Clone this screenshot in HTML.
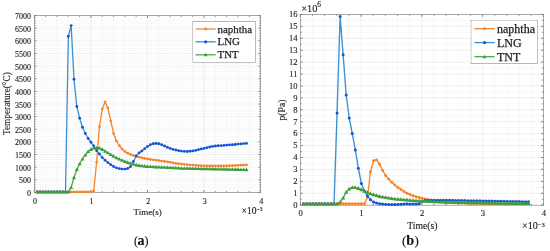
<!DOCTYPE html>
<html><head><meta charset="utf-8"><title>Figure</title>
<style>html,body{margin:0;padding:0;background:#fff}svg{display:block}</style></head>
<body>
<svg width="550" height="251" viewBox="0 0 550 251" font-family="'Liberation Serif', 'Times New Roman', serif" fill="#1c1c1c" stroke="#1c1c1c" stroke-width="0.12" paint-order="stroke">
<rect width="550" height="251" fill="#fff" stroke="none"/>
<rect x="34.40" y="15.60" width="226.10" height="176.80" fill="#fff" stroke="none"/><line x1="45.70" y1="15.60" x2="45.70" y2="192.40" stroke="#f3f3f3" stroke-width="0.6"/><line x1="57.01" y1="15.60" x2="57.01" y2="192.40" stroke="#f3f3f3" stroke-width="0.6"/><line x1="68.31" y1="15.60" x2="68.31" y2="192.40" stroke="#f3f3f3" stroke-width="0.6"/><line x1="79.62" y1="15.60" x2="79.62" y2="192.40" stroke="#f3f3f3" stroke-width="0.6"/><line x1="102.23" y1="15.60" x2="102.23" y2="192.40" stroke="#f3f3f3" stroke-width="0.6"/><line x1="113.53" y1="15.60" x2="113.53" y2="192.40" stroke="#f3f3f3" stroke-width="0.6"/><line x1="124.84" y1="15.60" x2="124.84" y2="192.40" stroke="#f3f3f3" stroke-width="0.6"/><line x1="136.15" y1="15.60" x2="136.15" y2="192.40" stroke="#f3f3f3" stroke-width="0.6"/><line x1="158.75" y1="15.60" x2="158.75" y2="192.40" stroke="#f3f3f3" stroke-width="0.6"/><line x1="170.06" y1="15.60" x2="170.06" y2="192.40" stroke="#f3f3f3" stroke-width="0.6"/><line x1="181.37" y1="15.60" x2="181.37" y2="192.40" stroke="#f3f3f3" stroke-width="0.6"/><line x1="192.67" y1="15.60" x2="192.67" y2="192.40" stroke="#f3f3f3" stroke-width="0.6"/><line x1="215.28" y1="15.60" x2="215.28" y2="192.40" stroke="#f3f3f3" stroke-width="0.6"/><line x1="226.59" y1="15.60" x2="226.59" y2="192.40" stroke="#f3f3f3" stroke-width="0.6"/><line x1="237.89" y1="15.60" x2="237.89" y2="192.40" stroke="#f3f3f3" stroke-width="0.6"/><line x1="249.19" y1="15.60" x2="249.19" y2="192.40" stroke="#f3f3f3" stroke-width="0.6"/><line x1="34.40" y1="189.87" x2="260.50" y2="189.87" stroke="#f3f3f3" stroke-width="0.6"/><line x1="34.40" y1="187.35" x2="260.50" y2="187.35" stroke="#f3f3f3" stroke-width="0.6"/><line x1="34.40" y1="184.82" x2="260.50" y2="184.82" stroke="#f3f3f3" stroke-width="0.6"/><line x1="34.40" y1="182.30" x2="260.50" y2="182.30" stroke="#f3f3f3" stroke-width="0.6"/><line x1="34.40" y1="177.25" x2="260.50" y2="177.25" stroke="#f3f3f3" stroke-width="0.6"/><line x1="34.40" y1="174.72" x2="260.50" y2="174.72" stroke="#f3f3f3" stroke-width="0.6"/><line x1="34.40" y1="172.19" x2="260.50" y2="172.19" stroke="#f3f3f3" stroke-width="0.6"/><line x1="34.40" y1="169.67" x2="260.50" y2="169.67" stroke="#f3f3f3" stroke-width="0.6"/><line x1="34.40" y1="164.62" x2="260.50" y2="164.62" stroke="#f3f3f3" stroke-width="0.6"/><line x1="34.40" y1="162.09" x2="260.50" y2="162.09" stroke="#f3f3f3" stroke-width="0.6"/><line x1="34.40" y1="159.57" x2="260.50" y2="159.57" stroke="#f3f3f3" stroke-width="0.6"/><line x1="34.40" y1="157.04" x2="260.50" y2="157.04" stroke="#f3f3f3" stroke-width="0.6"/><line x1="34.40" y1="151.99" x2="260.50" y2="151.99" stroke="#f3f3f3" stroke-width="0.6"/><line x1="34.40" y1="149.46" x2="260.50" y2="149.46" stroke="#f3f3f3" stroke-width="0.6"/><line x1="34.40" y1="146.94" x2="260.50" y2="146.94" stroke="#f3f3f3" stroke-width="0.6"/><line x1="34.40" y1="144.41" x2="260.50" y2="144.41" stroke="#f3f3f3" stroke-width="0.6"/><line x1="34.40" y1="139.36" x2="260.50" y2="139.36" stroke="#f3f3f3" stroke-width="0.6"/><line x1="34.40" y1="136.83" x2="260.50" y2="136.83" stroke="#f3f3f3" stroke-width="0.6"/><line x1="34.40" y1="134.31" x2="260.50" y2="134.31" stroke="#f3f3f3" stroke-width="0.6"/><line x1="34.40" y1="131.78" x2="260.50" y2="131.78" stroke="#f3f3f3" stroke-width="0.6"/><line x1="34.40" y1="126.73" x2="260.50" y2="126.73" stroke="#f3f3f3" stroke-width="0.6"/><line x1="34.40" y1="124.21" x2="260.50" y2="124.21" stroke="#f3f3f3" stroke-width="0.6"/><line x1="34.40" y1="121.68" x2="260.50" y2="121.68" stroke="#f3f3f3" stroke-width="0.6"/><line x1="34.40" y1="119.15" x2="260.50" y2="119.15" stroke="#f3f3f3" stroke-width="0.6"/><line x1="34.40" y1="114.10" x2="260.50" y2="114.10" stroke="#f3f3f3" stroke-width="0.6"/><line x1="34.40" y1="111.58" x2="260.50" y2="111.58" stroke="#f3f3f3" stroke-width="0.6"/><line x1="34.40" y1="109.05" x2="260.50" y2="109.05" stroke="#f3f3f3" stroke-width="0.6"/><line x1="34.40" y1="106.53" x2="260.50" y2="106.53" stroke="#f3f3f3" stroke-width="0.6"/><line x1="34.40" y1="101.47" x2="260.50" y2="101.47" stroke="#f3f3f3" stroke-width="0.6"/><line x1="34.40" y1="98.95" x2="260.50" y2="98.95" stroke="#f3f3f3" stroke-width="0.6"/><line x1="34.40" y1="96.42" x2="260.50" y2="96.42" stroke="#f3f3f3" stroke-width="0.6"/><line x1="34.40" y1="93.90" x2="260.50" y2="93.90" stroke="#f3f3f3" stroke-width="0.6"/><line x1="34.40" y1="88.85" x2="260.50" y2="88.85" stroke="#f3f3f3" stroke-width="0.6"/><line x1="34.40" y1="86.32" x2="260.50" y2="86.32" stroke="#f3f3f3" stroke-width="0.6"/><line x1="34.40" y1="83.79" x2="260.50" y2="83.79" stroke="#f3f3f3" stroke-width="0.6"/><line x1="34.40" y1="81.27" x2="260.50" y2="81.27" stroke="#f3f3f3" stroke-width="0.6"/><line x1="34.40" y1="76.22" x2="260.50" y2="76.22" stroke="#f3f3f3" stroke-width="0.6"/><line x1="34.40" y1="73.69" x2="260.50" y2="73.69" stroke="#f3f3f3" stroke-width="0.6"/><line x1="34.40" y1="71.17" x2="260.50" y2="71.17" stroke="#f3f3f3" stroke-width="0.6"/><line x1="34.40" y1="68.64" x2="260.50" y2="68.64" stroke="#f3f3f3" stroke-width="0.6"/><line x1="34.40" y1="63.59" x2="260.50" y2="63.59" stroke="#f3f3f3" stroke-width="0.6"/><line x1="34.40" y1="61.06" x2="260.50" y2="61.06" stroke="#f3f3f3" stroke-width="0.6"/><line x1="34.40" y1="58.54" x2="260.50" y2="58.54" stroke="#f3f3f3" stroke-width="0.6"/><line x1="34.40" y1="56.01" x2="260.50" y2="56.01" stroke="#f3f3f3" stroke-width="0.6"/><line x1="34.40" y1="50.96" x2="260.50" y2="50.96" stroke="#f3f3f3" stroke-width="0.6"/><line x1="34.40" y1="48.43" x2="260.50" y2="48.43" stroke="#f3f3f3" stroke-width="0.6"/><line x1="34.40" y1="45.91" x2="260.50" y2="45.91" stroke="#f3f3f3" stroke-width="0.6"/><line x1="34.40" y1="43.38" x2="260.50" y2="43.38" stroke="#f3f3f3" stroke-width="0.6"/><line x1="34.40" y1="38.33" x2="260.50" y2="38.33" stroke="#f3f3f3" stroke-width="0.6"/><line x1="34.40" y1="35.81" x2="260.50" y2="35.81" stroke="#f3f3f3" stroke-width="0.6"/><line x1="34.40" y1="33.28" x2="260.50" y2="33.28" stroke="#f3f3f3" stroke-width="0.6"/><line x1="34.40" y1="30.75" x2="260.50" y2="30.75" stroke="#f3f3f3" stroke-width="0.6"/><line x1="34.40" y1="25.70" x2="260.50" y2="25.70" stroke="#f3f3f3" stroke-width="0.6"/><line x1="34.40" y1="23.18" x2="260.50" y2="23.18" stroke="#f3f3f3" stroke-width="0.6"/><line x1="34.40" y1="20.65" x2="260.50" y2="20.65" stroke="#f3f3f3" stroke-width="0.6"/><line x1="34.40" y1="18.13" x2="260.50" y2="18.13" stroke="#f3f3f3" stroke-width="0.6"/><line x1="90.92" y1="15.60" x2="90.92" y2="192.40" stroke="#e9e9e9" stroke-width="0.7"/><line x1="147.45" y1="15.60" x2="147.45" y2="192.40" stroke="#e9e9e9" stroke-width="0.7"/><line x1="203.97" y1="15.60" x2="203.97" y2="192.40" stroke="#e9e9e9" stroke-width="0.7"/><line x1="34.40" y1="179.77" x2="260.50" y2="179.77" stroke="#e9e9e9" stroke-width="0.7"/><line x1="34.40" y1="167.14" x2="260.50" y2="167.14" stroke="#e9e9e9" stroke-width="0.7"/><line x1="34.40" y1="154.51" x2="260.50" y2="154.51" stroke="#e9e9e9" stroke-width="0.7"/><line x1="34.40" y1="141.89" x2="260.50" y2="141.89" stroke="#e9e9e9" stroke-width="0.7"/><line x1="34.40" y1="129.26" x2="260.50" y2="129.26" stroke="#e9e9e9" stroke-width="0.7"/><line x1="34.40" y1="116.63" x2="260.50" y2="116.63" stroke="#e9e9e9" stroke-width="0.7"/><line x1="34.40" y1="104.00" x2="260.50" y2="104.00" stroke="#e9e9e9" stroke-width="0.7"/><line x1="34.40" y1="91.37" x2="260.50" y2="91.37" stroke="#e9e9e9" stroke-width="0.7"/><line x1="34.40" y1="78.74" x2="260.50" y2="78.74" stroke="#e9e9e9" stroke-width="0.7"/><line x1="34.40" y1="66.11" x2="260.50" y2="66.11" stroke="#e9e9e9" stroke-width="0.7"/><line x1="34.40" y1="53.49" x2="260.50" y2="53.49" stroke="#e9e9e9" stroke-width="0.7"/><line x1="34.40" y1="40.86" x2="260.50" y2="40.86" stroke="#e9e9e9" stroke-width="0.7"/><line x1="34.40" y1="28.23" x2="260.50" y2="28.23" stroke="#e9e9e9" stroke-width="0.7"/>
<clipPath id="cl"><rect x="34.40" y="13.60" width="226.10" height="180.80"/></clipPath>
<path d="M45.70 192.40 v-1.20 M45.70 15.60 v1.20" stroke="#505050" stroke-width="0.7"/><path d="M57.01 192.40 v-1.20 M57.01 15.60 v1.20" stroke="#505050" stroke-width="0.7"/><path d="M68.31 192.40 v-1.20 M68.31 15.60 v1.20" stroke="#505050" stroke-width="0.7"/><path d="M79.62 192.40 v-1.20 M79.62 15.60 v1.20" stroke="#505050" stroke-width="0.7"/><path d="M102.23 192.40 v-1.20 M102.23 15.60 v1.20" stroke="#505050" stroke-width="0.7"/><path d="M113.53 192.40 v-1.20 M113.53 15.60 v1.20" stroke="#505050" stroke-width="0.7"/><path d="M124.84 192.40 v-1.20 M124.84 15.60 v1.20" stroke="#505050" stroke-width="0.7"/><path d="M136.15 192.40 v-1.20 M136.15 15.60 v1.20" stroke="#505050" stroke-width="0.7"/><path d="M158.75 192.40 v-1.20 M158.75 15.60 v1.20" stroke="#505050" stroke-width="0.7"/><path d="M170.06 192.40 v-1.20 M170.06 15.60 v1.20" stroke="#505050" stroke-width="0.7"/><path d="M181.37 192.40 v-1.20 M181.37 15.60 v1.20" stroke="#505050" stroke-width="0.7"/><path d="M192.67 192.40 v-1.20 M192.67 15.60 v1.20" stroke="#505050" stroke-width="0.7"/><path d="M215.28 192.40 v-1.20 M215.28 15.60 v1.20" stroke="#505050" stroke-width="0.7"/><path d="M226.59 192.40 v-1.20 M226.59 15.60 v1.20" stroke="#505050" stroke-width="0.7"/><path d="M237.89 192.40 v-1.20 M237.89 15.60 v1.20" stroke="#505050" stroke-width="0.7"/><path d="M249.19 192.40 v-1.20 M249.19 15.60 v1.20" stroke="#505050" stroke-width="0.7"/><path d="M90.92 192.40 v-2.20 M90.92 15.60 v2.20" stroke="#505050" stroke-width="0.7"/><path d="M147.45 192.40 v-2.20 M147.45 15.60 v2.20" stroke="#505050" stroke-width="0.7"/><path d="M203.97 192.40 v-2.20 M203.97 15.60 v2.20" stroke="#505050" stroke-width="0.7"/><path d="M34.40 192.40 v-2.20 M34.40 15.60 v2.20" stroke="#505050" stroke-width="0.7"/><path d="M260.50 192.40 v-2.20 M260.50 15.60 v2.20" stroke="#505050" stroke-width="0.7"/><path d="M34.40 189.87 h1.20 M260.50 189.87 h-1.20" stroke="#505050" stroke-width="0.7"/><path d="M34.40 187.35 h1.20 M260.50 187.35 h-1.20" stroke="#505050" stroke-width="0.7"/><path d="M34.40 184.82 h1.20 M260.50 184.82 h-1.20" stroke="#505050" stroke-width="0.7"/><path d="M34.40 182.30 h1.20 M260.50 182.30 h-1.20" stroke="#505050" stroke-width="0.7"/><path d="M34.40 177.25 h1.20 M260.50 177.25 h-1.20" stroke="#505050" stroke-width="0.7"/><path d="M34.40 174.72 h1.20 M260.50 174.72 h-1.20" stroke="#505050" stroke-width="0.7"/><path d="M34.40 172.19 h1.20 M260.50 172.19 h-1.20" stroke="#505050" stroke-width="0.7"/><path d="M34.40 169.67 h1.20 M260.50 169.67 h-1.20" stroke="#505050" stroke-width="0.7"/><path d="M34.40 164.62 h1.20 M260.50 164.62 h-1.20" stroke="#505050" stroke-width="0.7"/><path d="M34.40 162.09 h1.20 M260.50 162.09 h-1.20" stroke="#505050" stroke-width="0.7"/><path d="M34.40 159.57 h1.20 M260.50 159.57 h-1.20" stroke="#505050" stroke-width="0.7"/><path d="M34.40 157.04 h1.20 M260.50 157.04 h-1.20" stroke="#505050" stroke-width="0.7"/><path d="M34.40 151.99 h1.20 M260.50 151.99 h-1.20" stroke="#505050" stroke-width="0.7"/><path d="M34.40 149.46 h1.20 M260.50 149.46 h-1.20" stroke="#505050" stroke-width="0.7"/><path d="M34.40 146.94 h1.20 M260.50 146.94 h-1.20" stroke="#505050" stroke-width="0.7"/><path d="M34.40 144.41 h1.20 M260.50 144.41 h-1.20" stroke="#505050" stroke-width="0.7"/><path d="M34.40 139.36 h1.20 M260.50 139.36 h-1.20" stroke="#505050" stroke-width="0.7"/><path d="M34.40 136.83 h1.20 M260.50 136.83 h-1.20" stroke="#505050" stroke-width="0.7"/><path d="M34.40 134.31 h1.20 M260.50 134.31 h-1.20" stroke="#505050" stroke-width="0.7"/><path d="M34.40 131.78 h1.20 M260.50 131.78 h-1.20" stroke="#505050" stroke-width="0.7"/><path d="M34.40 126.73 h1.20 M260.50 126.73 h-1.20" stroke="#505050" stroke-width="0.7"/><path d="M34.40 124.21 h1.20 M260.50 124.21 h-1.20" stroke="#505050" stroke-width="0.7"/><path d="M34.40 121.68 h1.20 M260.50 121.68 h-1.20" stroke="#505050" stroke-width="0.7"/><path d="M34.40 119.15 h1.20 M260.50 119.15 h-1.20" stroke="#505050" stroke-width="0.7"/><path d="M34.40 114.10 h1.20 M260.50 114.10 h-1.20" stroke="#505050" stroke-width="0.7"/><path d="M34.40 111.58 h1.20 M260.50 111.58 h-1.20" stroke="#505050" stroke-width="0.7"/><path d="M34.40 109.05 h1.20 M260.50 109.05 h-1.20" stroke="#505050" stroke-width="0.7"/><path d="M34.40 106.53 h1.20 M260.50 106.53 h-1.20" stroke="#505050" stroke-width="0.7"/><path d="M34.40 101.47 h1.20 M260.50 101.47 h-1.20" stroke="#505050" stroke-width="0.7"/><path d="M34.40 98.95 h1.20 M260.50 98.95 h-1.20" stroke="#505050" stroke-width="0.7"/><path d="M34.40 96.42 h1.20 M260.50 96.42 h-1.20" stroke="#505050" stroke-width="0.7"/><path d="M34.40 93.90 h1.20 M260.50 93.90 h-1.20" stroke="#505050" stroke-width="0.7"/><path d="M34.40 88.85 h1.20 M260.50 88.85 h-1.20" stroke="#505050" stroke-width="0.7"/><path d="M34.40 86.32 h1.20 M260.50 86.32 h-1.20" stroke="#505050" stroke-width="0.7"/><path d="M34.40 83.79 h1.20 M260.50 83.79 h-1.20" stroke="#505050" stroke-width="0.7"/><path d="M34.40 81.27 h1.20 M260.50 81.27 h-1.20" stroke="#505050" stroke-width="0.7"/><path d="M34.40 76.22 h1.20 M260.50 76.22 h-1.20" stroke="#505050" stroke-width="0.7"/><path d="M34.40 73.69 h1.20 M260.50 73.69 h-1.20" stroke="#505050" stroke-width="0.7"/><path d="M34.40 71.17 h1.20 M260.50 71.17 h-1.20" stroke="#505050" stroke-width="0.7"/><path d="M34.40 68.64 h1.20 M260.50 68.64 h-1.20" stroke="#505050" stroke-width="0.7"/><path d="M34.40 63.59 h1.20 M260.50 63.59 h-1.20" stroke="#505050" stroke-width="0.7"/><path d="M34.40 61.06 h1.20 M260.50 61.06 h-1.20" stroke="#505050" stroke-width="0.7"/><path d="M34.40 58.54 h1.20 M260.50 58.54 h-1.20" stroke="#505050" stroke-width="0.7"/><path d="M34.40 56.01 h1.20 M260.50 56.01 h-1.20" stroke="#505050" stroke-width="0.7"/><path d="M34.40 50.96 h1.20 M260.50 50.96 h-1.20" stroke="#505050" stroke-width="0.7"/><path d="M34.40 48.43 h1.20 M260.50 48.43 h-1.20" stroke="#505050" stroke-width="0.7"/><path d="M34.40 45.91 h1.20 M260.50 45.91 h-1.20" stroke="#505050" stroke-width="0.7"/><path d="M34.40 43.38 h1.20 M260.50 43.38 h-1.20" stroke="#505050" stroke-width="0.7"/><path d="M34.40 38.33 h1.20 M260.50 38.33 h-1.20" stroke="#505050" stroke-width="0.7"/><path d="M34.40 35.81 h1.20 M260.50 35.81 h-1.20" stroke="#505050" stroke-width="0.7"/><path d="M34.40 33.28 h1.20 M260.50 33.28 h-1.20" stroke="#505050" stroke-width="0.7"/><path d="M34.40 30.75 h1.20 M260.50 30.75 h-1.20" stroke="#505050" stroke-width="0.7"/><path d="M34.40 25.70 h1.20 M260.50 25.70 h-1.20" stroke="#505050" stroke-width="0.7"/><path d="M34.40 23.18 h1.20 M260.50 23.18 h-1.20" stroke="#505050" stroke-width="0.7"/><path d="M34.40 20.65 h1.20 M260.50 20.65 h-1.20" stroke="#505050" stroke-width="0.7"/><path d="M34.40 18.13 h1.20 M260.50 18.13 h-1.20" stroke="#505050" stroke-width="0.7"/><path d="M34.40 179.77 h2.20 M260.50 179.77 h-2.20" stroke="#505050" stroke-width="0.7"/><path d="M34.40 167.14 h2.20 M260.50 167.14 h-2.20" stroke="#505050" stroke-width="0.7"/><path d="M34.40 154.51 h2.20 M260.50 154.51 h-2.20" stroke="#505050" stroke-width="0.7"/><path d="M34.40 141.89 h2.20 M260.50 141.89 h-2.20" stroke="#505050" stroke-width="0.7"/><path d="M34.40 129.26 h2.20 M260.50 129.26 h-2.20" stroke="#505050" stroke-width="0.7"/><path d="M34.40 116.63 h2.20 M260.50 116.63 h-2.20" stroke="#505050" stroke-width="0.7"/><path d="M34.40 104.00 h2.20 M260.50 104.00 h-2.20" stroke="#505050" stroke-width="0.7"/><path d="M34.40 91.37 h2.20 M260.50 91.37 h-2.20" stroke="#505050" stroke-width="0.7"/><path d="M34.40 78.74 h2.20 M260.50 78.74 h-2.20" stroke="#505050" stroke-width="0.7"/><path d="M34.40 66.11 h2.20 M260.50 66.11 h-2.20" stroke="#505050" stroke-width="0.7"/><path d="M34.40 53.49 h2.20 M260.50 53.49 h-2.20" stroke="#505050" stroke-width="0.7"/><path d="M34.40 40.86 h2.20 M260.50 40.86 h-2.20" stroke="#505050" stroke-width="0.7"/><path d="M34.40 28.23 h2.20 M260.50 28.23 h-2.20" stroke="#505050" stroke-width="0.7"/><path d="M34.40 15.60 h2.20 M260.50 15.60 h-2.20" stroke="#505050" stroke-width="0.7"/><path d="M34.40 192.40 h2.20 M260.50 192.40 h-2.20" stroke="#505050" stroke-width="0.7"/><rect x="34.40" y="15.60" width="226.10" height="176.80" fill="none" stroke="#848484" stroke-width="0.7"/>
<g>
<polyline points="37.23,191.90 40.06,191.90 42.88,191.90 45.71,191.90 48.54,191.90 51.37,191.90 54.20,191.90 57.02,191.90 59.85,191.90 62.68,191.90 65.51,191.90 68.34,191.90 71.16,191.90 73.99,191.90 76.82,191.90 79.65,191.90 82.48,191.90 85.30,191.90 88.13,191.90 90.96,191.90 93.79,190.90 96.62,162.00 99.44,126.75 102.27,109.00 105.10,101.75 107.93,108.00 110.76,121.00 113.58,133.50 116.41,141.00 119.24,145.50 122.07,149.00 124.90,151.50 127.72,153.20 130.55,154.40 133.38,155.40 136.21,156.25 139.04,157.10 141.86,157.75 144.69,158.40 147.52,158.90 150.35,159.40 153.18,159.75 156.00,160.10 158.83,160.50 161.66,161.00 164.49,161.40 167.32,161.75 170.14,162.25 172.97,162.75 175.80,163.40 178.63,163.70 181.46,164.05 184.28,164.30 187.11,164.60 189.94,164.80 192.77,165.05 195.60,165.30 198.42,165.50 201.25,165.65 204.08,165.75 206.91,165.85 209.74,165.90 212.56,165.95 215.39,165.95 218.22,165.95 221.05,165.90 223.88,165.85 226.70,165.75 229.53,165.65 232.36,165.55 235.19,165.40 238.02,165.30 240.84,165.15 243.67,165.00 246.50,164.90" fill="none" stroke="#f5852a" stroke-width="1.3" stroke-linejoin="round"/>
<circle cx="37.23" cy="191.90" r="1.35" fill="#f5852a" stroke="none"/><circle cx="40.06" cy="191.90" r="1.35" fill="#f5852a" stroke="none"/><circle cx="42.88" cy="191.90" r="1.35" fill="#f5852a" stroke="none"/><circle cx="45.71" cy="191.90" r="1.35" fill="#f5852a" stroke="none"/><circle cx="48.54" cy="191.90" r="1.35" fill="#f5852a" stroke="none"/><circle cx="51.37" cy="191.90" r="1.35" fill="#f5852a" stroke="none"/><circle cx="54.20" cy="191.90" r="1.35" fill="#f5852a" stroke="none"/><circle cx="57.02" cy="191.90" r="1.35" fill="#f5852a" stroke="none"/><circle cx="59.85" cy="191.90" r="1.35" fill="#f5852a" stroke="none"/><circle cx="62.68" cy="191.90" r="1.35" fill="#f5852a" stroke="none"/><circle cx="65.51" cy="191.90" r="1.35" fill="#f5852a" stroke="none"/><circle cx="68.34" cy="191.90" r="1.35" fill="#f5852a" stroke="none"/><circle cx="71.16" cy="191.90" r="1.35" fill="#f5852a" stroke="none"/><circle cx="73.99" cy="191.90" r="1.35" fill="#f5852a" stroke="none"/><circle cx="76.82" cy="191.90" r="1.35" fill="#f5852a" stroke="none"/><circle cx="79.65" cy="191.90" r="1.35" fill="#f5852a" stroke="none"/><circle cx="82.48" cy="191.90" r="1.35" fill="#f5852a" stroke="none"/><circle cx="85.30" cy="191.90" r="1.35" fill="#f5852a" stroke="none"/><circle cx="88.13" cy="191.90" r="1.35" fill="#f5852a" stroke="none"/><circle cx="90.96" cy="191.90" r="1.35" fill="#f5852a" stroke="none"/><circle cx="93.79" cy="190.90" r="1.35" fill="#f5852a" stroke="none"/><circle cx="96.62" cy="162.00" r="1.35" fill="#f5852a" stroke="none"/><circle cx="99.44" cy="126.75" r="1.35" fill="#f5852a" stroke="none"/><circle cx="102.27" cy="109.00" r="1.35" fill="#f5852a" stroke="none"/><circle cx="105.10" cy="101.75" r="1.35" fill="#f5852a" stroke="none"/><circle cx="107.93" cy="108.00" r="1.35" fill="#f5852a" stroke="none"/><circle cx="110.76" cy="121.00" r="1.35" fill="#f5852a" stroke="none"/><circle cx="113.58" cy="133.50" r="1.35" fill="#f5852a" stroke="none"/><circle cx="116.41" cy="141.00" r="1.35" fill="#f5852a" stroke="none"/><circle cx="119.24" cy="145.50" r="1.35" fill="#f5852a" stroke="none"/><circle cx="122.07" cy="149.00" r="1.35" fill="#f5852a" stroke="none"/><circle cx="124.90" cy="151.50" r="1.35" fill="#f5852a" stroke="none"/><circle cx="127.72" cy="153.20" r="1.35" fill="#f5852a" stroke="none"/><circle cx="130.55" cy="154.40" r="1.35" fill="#f5852a" stroke="none"/><circle cx="133.38" cy="155.40" r="1.35" fill="#f5852a" stroke="none"/><circle cx="136.21" cy="156.25" r="1.35" fill="#f5852a" stroke="none"/><circle cx="139.04" cy="157.10" r="1.35" fill="#f5852a" stroke="none"/><circle cx="141.86" cy="157.75" r="1.35" fill="#f5852a" stroke="none"/><circle cx="144.69" cy="158.40" r="1.35" fill="#f5852a" stroke="none"/><circle cx="147.52" cy="158.90" r="1.35" fill="#f5852a" stroke="none"/><circle cx="150.35" cy="159.40" r="1.35" fill="#f5852a" stroke="none"/><circle cx="153.18" cy="159.75" r="1.35" fill="#f5852a" stroke="none"/><circle cx="156.00" cy="160.10" r="1.35" fill="#f5852a" stroke="none"/><circle cx="158.83" cy="160.50" r="1.35" fill="#f5852a" stroke="none"/><circle cx="161.66" cy="161.00" r="1.35" fill="#f5852a" stroke="none"/><circle cx="164.49" cy="161.40" r="1.35" fill="#f5852a" stroke="none"/><circle cx="167.32" cy="161.75" r="1.35" fill="#f5852a" stroke="none"/><circle cx="170.14" cy="162.25" r="1.35" fill="#f5852a" stroke="none"/><circle cx="172.97" cy="162.75" r="1.35" fill="#f5852a" stroke="none"/><circle cx="175.80" cy="163.40" r="1.35" fill="#f5852a" stroke="none"/><circle cx="178.63" cy="163.70" r="1.35" fill="#f5852a" stroke="none"/><circle cx="181.46" cy="164.05" r="1.35" fill="#f5852a" stroke="none"/><circle cx="184.28" cy="164.30" r="1.35" fill="#f5852a" stroke="none"/><circle cx="187.11" cy="164.60" r="1.35" fill="#f5852a" stroke="none"/><circle cx="189.94" cy="164.80" r="1.35" fill="#f5852a" stroke="none"/><circle cx="192.77" cy="165.05" r="1.35" fill="#f5852a" stroke="none"/><circle cx="195.60" cy="165.30" r="1.35" fill="#f5852a" stroke="none"/><circle cx="198.42" cy="165.50" r="1.35" fill="#f5852a" stroke="none"/><circle cx="201.25" cy="165.65" r="1.35" fill="#f5852a" stroke="none"/><circle cx="204.08" cy="165.75" r="1.35" fill="#f5852a" stroke="none"/><circle cx="206.91" cy="165.85" r="1.35" fill="#f5852a" stroke="none"/><circle cx="209.74" cy="165.90" r="1.35" fill="#f5852a" stroke="none"/><circle cx="212.56" cy="165.95" r="1.35" fill="#f5852a" stroke="none"/><circle cx="215.39" cy="165.95" r="1.35" fill="#f5852a" stroke="none"/><circle cx="218.22" cy="165.95" r="1.35" fill="#f5852a" stroke="none"/><circle cx="221.05" cy="165.90" r="1.35" fill="#f5852a" stroke="none"/><circle cx="223.88" cy="165.85" r="1.35" fill="#f5852a" stroke="none"/><circle cx="226.70" cy="165.75" r="1.35" fill="#f5852a" stroke="none"/><circle cx="229.53" cy="165.65" r="1.35" fill="#f5852a" stroke="none"/><circle cx="232.36" cy="165.55" r="1.35" fill="#f5852a" stroke="none"/><circle cx="235.19" cy="165.40" r="1.35" fill="#f5852a" stroke="none"/><circle cx="238.02" cy="165.30" r="1.35" fill="#f5852a" stroke="none"/><circle cx="240.84" cy="165.15" r="1.35" fill="#f5852a" stroke="none"/><circle cx="243.67" cy="165.00" r="1.35" fill="#f5852a" stroke="none"/><circle cx="246.50" cy="164.90" r="1.35" fill="#f5852a" stroke="none"/>
<polyline points="37.23,191.90 40.06,191.90 42.88,191.90 45.71,191.90 48.54,191.90 51.37,191.90 54.20,191.90 57.02,191.90 59.85,191.90 62.68,191.90 65.51,191.90 68.34,36.25 71.16,25.60 73.99,79.25 76.82,106.50 79.65,118.25 82.48,127.25 85.30,133.50 88.13,138.50 90.96,142.25 93.79,146.00 96.62,150.70 99.44,154.00 102.27,157.60 105.10,160.20 107.93,162.60 110.76,164.70 113.58,166.50 116.41,167.80 119.24,168.60 122.07,169.10 124.90,169.10 127.72,168.50 130.55,166.60 133.38,161.50 136.21,156.00 139.04,152.90 141.86,151.00 144.69,148.75 147.52,146.50 150.35,144.75 153.18,143.75 156.00,143.40 158.83,143.75 161.66,144.75 164.49,146.00 167.32,147.25 170.14,148.40 172.97,149.30 175.80,150.00 178.63,150.70 181.46,151.10 184.28,151.40 187.11,151.50 189.94,151.25 192.77,150.90 195.60,150.40 198.42,149.70 201.25,149.00 204.08,148.40 206.91,147.70 209.74,147.00 212.56,146.40 215.39,146.00 218.22,145.75 221.05,145.60 223.88,145.40 226.70,145.10 229.53,144.90 232.36,144.75 235.19,144.50 238.02,144.10 240.84,143.90 243.67,143.60 246.50,143.40" fill="none" stroke="#3a91cf" stroke-width="1.3" stroke-linejoin="round"/>
<circle cx="37.23" cy="191.90" r="1.4" fill="#1552d6" stroke="none"/><circle cx="40.06" cy="191.90" r="1.4" fill="#1552d6" stroke="none"/><circle cx="42.88" cy="191.90" r="1.4" fill="#1552d6" stroke="none"/><circle cx="45.71" cy="191.90" r="1.4" fill="#1552d6" stroke="none"/><circle cx="48.54" cy="191.90" r="1.4" fill="#1552d6" stroke="none"/><circle cx="51.37" cy="191.90" r="1.4" fill="#1552d6" stroke="none"/><circle cx="54.20" cy="191.90" r="1.4" fill="#1552d6" stroke="none"/><circle cx="57.02" cy="191.90" r="1.4" fill="#1552d6" stroke="none"/><circle cx="59.85" cy="191.90" r="1.4" fill="#1552d6" stroke="none"/><circle cx="62.68" cy="191.90" r="1.4" fill="#1552d6" stroke="none"/><circle cx="65.51" cy="191.90" r="1.4" fill="#1552d6" stroke="none"/><circle cx="68.34" cy="36.25" r="1.4" fill="#1552d6" stroke="none"/><circle cx="71.16" cy="25.60" r="1.4" fill="#1552d6" stroke="none"/><circle cx="73.99" cy="79.25" r="1.4" fill="#1552d6" stroke="none"/><circle cx="76.82" cy="106.50" r="1.4" fill="#1552d6" stroke="none"/><circle cx="79.65" cy="118.25" r="1.4" fill="#1552d6" stroke="none"/><circle cx="82.48" cy="127.25" r="1.4" fill="#1552d6" stroke="none"/><circle cx="85.30" cy="133.50" r="1.4" fill="#1552d6" stroke="none"/><circle cx="88.13" cy="138.50" r="1.4" fill="#1552d6" stroke="none"/><circle cx="90.96" cy="142.25" r="1.4" fill="#1552d6" stroke="none"/><circle cx="93.79" cy="146.00" r="1.4" fill="#1552d6" stroke="none"/><circle cx="96.62" cy="150.70" r="1.4" fill="#1552d6" stroke="none"/><circle cx="99.44" cy="154.00" r="1.4" fill="#1552d6" stroke="none"/><circle cx="102.27" cy="157.60" r="1.4" fill="#1552d6" stroke="none"/><circle cx="105.10" cy="160.20" r="1.4" fill="#1552d6" stroke="none"/><circle cx="107.93" cy="162.60" r="1.4" fill="#1552d6" stroke="none"/><circle cx="110.76" cy="164.70" r="1.4" fill="#1552d6" stroke="none"/><circle cx="113.58" cy="166.50" r="1.4" fill="#1552d6" stroke="none"/><circle cx="116.41" cy="167.80" r="1.4" fill="#1552d6" stroke="none"/><circle cx="119.24" cy="168.60" r="1.4" fill="#1552d6" stroke="none"/><circle cx="122.07" cy="169.10" r="1.4" fill="#1552d6" stroke="none"/><circle cx="124.90" cy="169.10" r="1.4" fill="#1552d6" stroke="none"/><circle cx="127.72" cy="168.50" r="1.4" fill="#1552d6" stroke="none"/><circle cx="130.55" cy="166.60" r="1.4" fill="#1552d6" stroke="none"/><circle cx="133.38" cy="161.50" r="1.4" fill="#1552d6" stroke="none"/><circle cx="136.21" cy="156.00" r="1.4" fill="#1552d6" stroke="none"/><circle cx="139.04" cy="152.90" r="1.4" fill="#1552d6" stroke="none"/><circle cx="141.86" cy="151.00" r="1.4" fill="#1552d6" stroke="none"/><circle cx="144.69" cy="148.75" r="1.4" fill="#1552d6" stroke="none"/><circle cx="147.52" cy="146.50" r="1.4" fill="#1552d6" stroke="none"/><circle cx="150.35" cy="144.75" r="1.4" fill="#1552d6" stroke="none"/><circle cx="153.18" cy="143.75" r="1.4" fill="#1552d6" stroke="none"/><circle cx="156.00" cy="143.40" r="1.4" fill="#1552d6" stroke="none"/><circle cx="158.83" cy="143.75" r="1.4" fill="#1552d6" stroke="none"/><circle cx="161.66" cy="144.75" r="1.4" fill="#1552d6" stroke="none"/><circle cx="164.49" cy="146.00" r="1.4" fill="#1552d6" stroke="none"/><circle cx="167.32" cy="147.25" r="1.4" fill="#1552d6" stroke="none"/><circle cx="170.14" cy="148.40" r="1.4" fill="#1552d6" stroke="none"/><circle cx="172.97" cy="149.30" r="1.4" fill="#1552d6" stroke="none"/><circle cx="175.80" cy="150.00" r="1.4" fill="#1552d6" stroke="none"/><circle cx="178.63" cy="150.70" r="1.4" fill="#1552d6" stroke="none"/><circle cx="181.46" cy="151.10" r="1.4" fill="#1552d6" stroke="none"/><circle cx="184.28" cy="151.40" r="1.4" fill="#1552d6" stroke="none"/><circle cx="187.11" cy="151.50" r="1.4" fill="#1552d6" stroke="none"/><circle cx="189.94" cy="151.25" r="1.4" fill="#1552d6" stroke="none"/><circle cx="192.77" cy="150.90" r="1.4" fill="#1552d6" stroke="none"/><circle cx="195.60" cy="150.40" r="1.4" fill="#1552d6" stroke="none"/><circle cx="198.42" cy="149.70" r="1.4" fill="#1552d6" stroke="none"/><circle cx="201.25" cy="149.00" r="1.4" fill="#1552d6" stroke="none"/><circle cx="204.08" cy="148.40" r="1.4" fill="#1552d6" stroke="none"/><circle cx="206.91" cy="147.70" r="1.4" fill="#1552d6" stroke="none"/><circle cx="209.74" cy="147.00" r="1.4" fill="#1552d6" stroke="none"/><circle cx="212.56" cy="146.40" r="1.4" fill="#1552d6" stroke="none"/><circle cx="215.39" cy="146.00" r="1.4" fill="#1552d6" stroke="none"/><circle cx="218.22" cy="145.75" r="1.4" fill="#1552d6" stroke="none"/><circle cx="221.05" cy="145.60" r="1.4" fill="#1552d6" stroke="none"/><circle cx="223.88" cy="145.40" r="1.4" fill="#1552d6" stroke="none"/><circle cx="226.70" cy="145.10" r="1.4" fill="#1552d6" stroke="none"/><circle cx="229.53" cy="144.90" r="1.4" fill="#1552d6" stroke="none"/><circle cx="232.36" cy="144.75" r="1.4" fill="#1552d6" stroke="none"/><circle cx="235.19" cy="144.50" r="1.4" fill="#1552d6" stroke="none"/><circle cx="238.02" cy="144.10" r="1.4" fill="#1552d6" stroke="none"/><circle cx="240.84" cy="143.90" r="1.4" fill="#1552d6" stroke="none"/><circle cx="243.67" cy="143.60" r="1.4" fill="#1552d6" stroke="none"/><circle cx="246.50" cy="143.40" r="1.4" fill="#1552d6" stroke="none"/>
<polyline points="37.23,191.90 40.06,191.90 42.88,191.90 45.71,191.90 48.54,191.90 51.37,191.90 54.20,191.90 57.02,191.90 59.85,191.90 62.68,191.90 65.51,191.90 68.34,191.90 71.16,187.50 73.99,177.50 76.82,169.60 79.65,163.75 82.48,159.00 85.30,155.00 88.13,151.60 90.96,149.40 93.79,148.10 96.62,147.75 99.44,148.10 102.27,149.40 105.10,151.20 107.93,152.80 110.76,154.50 113.58,156.20 116.41,157.80 119.24,159.10 122.07,160.30 124.90,161.40 127.72,162.40 130.55,163.30 133.38,164.10 136.21,164.90 139.04,165.40 141.86,165.80 144.69,166.15 147.52,166.40 150.35,166.60 153.18,166.75 156.00,166.90 158.83,167.05 161.66,167.20 164.49,167.35 167.32,167.45 170.14,167.55 172.97,167.65 175.80,167.80 178.63,168.05 181.46,168.25 184.28,168.31 187.11,168.37 189.94,168.43 192.77,168.49 195.60,168.55 198.42,168.62 201.25,168.68 204.08,168.74 206.91,168.80 209.74,168.86 212.56,168.92 215.39,168.98 218.22,169.04 221.05,169.10 223.88,169.16 226.70,169.22 229.53,169.28 232.36,169.35 235.19,169.41 238.02,169.47 240.84,169.53 243.67,169.59 246.50,169.65" fill="none" stroke="#4aa84a" stroke-width="1.3" stroke-linejoin="round"/>
<path d="M37.23 189.80 l2.00 3.60 h-4.00 z" fill="#3f9c3f" stroke="none"/><path d="M40.06 189.80 l2.00 3.60 h-4.00 z" fill="#3f9c3f" stroke="none"/><path d="M42.88 189.80 l2.00 3.60 h-4.00 z" fill="#3f9c3f" stroke="none"/><path d="M45.71 189.80 l2.00 3.60 h-4.00 z" fill="#3f9c3f" stroke="none"/><path d="M48.54 189.80 l2.00 3.60 h-4.00 z" fill="#3f9c3f" stroke="none"/><path d="M51.37 189.80 l2.00 3.60 h-4.00 z" fill="#3f9c3f" stroke="none"/><path d="M54.20 189.80 l2.00 3.60 h-4.00 z" fill="#3f9c3f" stroke="none"/><path d="M57.02 189.80 l2.00 3.60 h-4.00 z" fill="#3f9c3f" stroke="none"/><path d="M59.85 189.80 l2.00 3.60 h-4.00 z" fill="#3f9c3f" stroke="none"/><path d="M62.68 189.80 l2.00 3.60 h-4.00 z" fill="#3f9c3f" stroke="none"/><path d="M65.51 189.80 l2.00 3.60 h-4.00 z" fill="#3f9c3f" stroke="none"/><path d="M68.34 189.80 l2.00 3.60 h-4.00 z" fill="#3f9c3f" stroke="none"/><path d="M71.16 185.40 l2.00 3.60 h-4.00 z" fill="#3f9c3f" stroke="none"/><path d="M73.99 175.40 l2.00 3.60 h-4.00 z" fill="#3f9c3f" stroke="none"/><path d="M76.82 167.50 l2.00 3.60 h-4.00 z" fill="#3f9c3f" stroke="none"/><path d="M79.65 161.65 l2.00 3.60 h-4.00 z" fill="#3f9c3f" stroke="none"/><path d="M82.48 156.90 l2.00 3.60 h-4.00 z" fill="#3f9c3f" stroke="none"/><path d="M85.30 152.90 l2.00 3.60 h-4.00 z" fill="#3f9c3f" stroke="none"/><path d="M88.13 149.50 l2.00 3.60 h-4.00 z" fill="#3f9c3f" stroke="none"/><path d="M90.96 147.30 l2.00 3.60 h-4.00 z" fill="#3f9c3f" stroke="none"/><path d="M93.79 146.00 l2.00 3.60 h-4.00 z" fill="#3f9c3f" stroke="none"/><path d="M96.62 145.65 l2.00 3.60 h-4.00 z" fill="#3f9c3f" stroke="none"/><path d="M99.44 146.00 l2.00 3.60 h-4.00 z" fill="#3f9c3f" stroke="none"/><path d="M102.27 147.30 l2.00 3.60 h-4.00 z" fill="#3f9c3f" stroke="none"/><path d="M105.10 149.10 l2.00 3.60 h-4.00 z" fill="#3f9c3f" stroke="none"/><path d="M107.93 150.70 l2.00 3.60 h-4.00 z" fill="#3f9c3f" stroke="none"/><path d="M110.76 152.40 l2.00 3.60 h-4.00 z" fill="#3f9c3f" stroke="none"/><path d="M113.58 154.10 l2.00 3.60 h-4.00 z" fill="#3f9c3f" stroke="none"/><path d="M116.41 155.70 l2.00 3.60 h-4.00 z" fill="#3f9c3f" stroke="none"/><path d="M119.24 157.00 l2.00 3.60 h-4.00 z" fill="#3f9c3f" stroke="none"/><path d="M122.07 158.20 l2.00 3.60 h-4.00 z" fill="#3f9c3f" stroke="none"/><path d="M124.90 159.30 l2.00 3.60 h-4.00 z" fill="#3f9c3f" stroke="none"/><path d="M127.72 160.30 l2.00 3.60 h-4.00 z" fill="#3f9c3f" stroke="none"/><path d="M130.55 161.20 l2.00 3.60 h-4.00 z" fill="#3f9c3f" stroke="none"/><path d="M133.38 162.00 l2.00 3.60 h-4.00 z" fill="#3f9c3f" stroke="none"/><path d="M136.21 162.80 l2.00 3.60 h-4.00 z" fill="#3f9c3f" stroke="none"/><path d="M139.04 163.30 l2.00 3.60 h-4.00 z" fill="#3f9c3f" stroke="none"/><path d="M141.86 163.70 l2.00 3.60 h-4.00 z" fill="#3f9c3f" stroke="none"/><path d="M144.69 164.05 l2.00 3.60 h-4.00 z" fill="#3f9c3f" stroke="none"/><path d="M147.52 164.30 l2.00 3.60 h-4.00 z" fill="#3f9c3f" stroke="none"/><path d="M150.35 164.50 l2.00 3.60 h-4.00 z" fill="#3f9c3f" stroke="none"/><path d="M153.18 164.65 l2.00 3.60 h-4.00 z" fill="#3f9c3f" stroke="none"/><path d="M156.00 164.80 l2.00 3.60 h-4.00 z" fill="#3f9c3f" stroke="none"/><path d="M158.83 164.95 l2.00 3.60 h-4.00 z" fill="#3f9c3f" stroke="none"/><path d="M161.66 165.10 l2.00 3.60 h-4.00 z" fill="#3f9c3f" stroke="none"/><path d="M164.49 165.25 l2.00 3.60 h-4.00 z" fill="#3f9c3f" stroke="none"/><path d="M167.32 165.35 l2.00 3.60 h-4.00 z" fill="#3f9c3f" stroke="none"/><path d="M170.14 165.45 l2.00 3.60 h-4.00 z" fill="#3f9c3f" stroke="none"/><path d="M172.97 165.55 l2.00 3.60 h-4.00 z" fill="#3f9c3f" stroke="none"/><path d="M175.80 165.70 l2.00 3.60 h-4.00 z" fill="#3f9c3f" stroke="none"/><path d="M178.63 165.95 l2.00 3.60 h-4.00 z" fill="#3f9c3f" stroke="none"/><path d="M181.46 166.15 l2.00 3.60 h-4.00 z" fill="#3f9c3f" stroke="none"/><path d="M184.28 166.21 l2.00 3.60 h-4.00 z" fill="#3f9c3f" stroke="none"/><path d="M187.11 166.27 l2.00 3.60 h-4.00 z" fill="#3f9c3f" stroke="none"/><path d="M189.94 166.33 l2.00 3.60 h-4.00 z" fill="#3f9c3f" stroke="none"/><path d="M192.77 166.39 l2.00 3.60 h-4.00 z" fill="#3f9c3f" stroke="none"/><path d="M195.60 166.45 l2.00 3.60 h-4.00 z" fill="#3f9c3f" stroke="none"/><path d="M198.42 166.52 l2.00 3.60 h-4.00 z" fill="#3f9c3f" stroke="none"/><path d="M201.25 166.58 l2.00 3.60 h-4.00 z" fill="#3f9c3f" stroke="none"/><path d="M204.08 166.64 l2.00 3.60 h-4.00 z" fill="#3f9c3f" stroke="none"/><path d="M206.91 166.70 l2.00 3.60 h-4.00 z" fill="#3f9c3f" stroke="none"/><path d="M209.74 166.76 l2.00 3.60 h-4.00 z" fill="#3f9c3f" stroke="none"/><path d="M212.56 166.82 l2.00 3.60 h-4.00 z" fill="#3f9c3f" stroke="none"/><path d="M215.39 166.88 l2.00 3.60 h-4.00 z" fill="#3f9c3f" stroke="none"/><path d="M218.22 166.94 l2.00 3.60 h-4.00 z" fill="#3f9c3f" stroke="none"/><path d="M221.05 167.00 l2.00 3.60 h-4.00 z" fill="#3f9c3f" stroke="none"/><path d="M223.88 167.06 l2.00 3.60 h-4.00 z" fill="#3f9c3f" stroke="none"/><path d="M226.70 167.12 l2.00 3.60 h-4.00 z" fill="#3f9c3f" stroke="none"/><path d="M229.53 167.18 l2.00 3.60 h-4.00 z" fill="#3f9c3f" stroke="none"/><path d="M232.36 167.25 l2.00 3.60 h-4.00 z" fill="#3f9c3f" stroke="none"/><path d="M235.19 167.31 l2.00 3.60 h-4.00 z" fill="#3f9c3f" stroke="none"/><path d="M238.02 167.37 l2.00 3.60 h-4.00 z" fill="#3f9c3f" stroke="none"/><path d="M240.84 167.43 l2.00 3.60 h-4.00 z" fill="#3f9c3f" stroke="none"/><path d="M243.67 167.49 l2.00 3.60 h-4.00 z" fill="#3f9c3f" stroke="none"/><path d="M246.50 167.55 l2.00 3.60 h-4.00 z" fill="#3f9c3f" stroke="none"/>
</g>
<text x="31.00" y="195.94" font-size="8.0" text-anchor="end" >0</text>
<text x="31.00" y="183.31" font-size="8.0" text-anchor="end" >500</text>
<text x="31.00" y="170.68" font-size="8.0" text-anchor="end" >1000</text>
<text x="31.00" y="158.05" font-size="8.0" text-anchor="end" >1500</text>
<text x="31.00" y="145.43" font-size="8.0" text-anchor="end" >2000</text>
<text x="31.00" y="132.80" font-size="8.0" text-anchor="end" >2500</text>
<text x="31.00" y="120.17" font-size="8.0" text-anchor="end" >3000</text>
<text x="31.00" y="107.54" font-size="8.0" text-anchor="end" >3500</text>
<text x="31.00" y="94.91" font-size="8.0" text-anchor="end" >4000</text>
<text x="31.00" y="82.28" font-size="8.0" text-anchor="end" >4500</text>
<text x="31.00" y="69.65" font-size="8.0" text-anchor="end" >5000</text>
<text x="31.00" y="57.03" font-size="8.0" text-anchor="end" >5500</text>
<text x="31.00" y="44.40" font-size="8.0" text-anchor="end" >6000</text>
<text x="31.00" y="31.77" font-size="8.0" text-anchor="end" >6500</text>
<text x="31.00" y="19.14" font-size="8.0" text-anchor="end" >7000</text>
<text x="35.10" y="203.80" font-size="8.0" text-anchor="middle" >0</text>
<text x="91.62" y="203.80" font-size="8.0" text-anchor="middle" >1</text>
<text x="148.15" y="203.80" font-size="8.0" text-anchor="middle" >2</text>
<text x="204.67" y="203.80" font-size="8.0" text-anchor="middle" >3</text>
<text x="261.20" y="203.80" font-size="8.0" text-anchor="middle" >4</text>
<text x="147.60" y="214.90" font-size="9.0" text-anchor="middle" >Time(s)</text>
<text x="241.60" y="213.50" font-size="9.6" text-anchor="start" >×10<tspan dy="-2.2" font-size="5.4">−3</tspan></text>
<text x="0.00" y="0.00" font-size="9.3" text-anchor="middle" transform="translate(10.2,103.6) rotate(-90)">Temperature(°C)</text>
<rect x="193.10" y="21.60" width="62.00" height="40.40" fill="#fff" stroke="#6a6a6a" stroke-width="0.8"/><line x1="195.60" y1="29.00" x2="215.70" y2="29.00" stroke="#f5852a" stroke-width="1.3"/><circle cx="205.65" cy="29.00" r="1.4" fill="#f5852a" stroke="none"/><text x="217.60" y="32.88" font-size="10.9" text-anchor="start" stroke-width="0.25">naphtha</text><line x1="195.60" y1="41.80" x2="215.70" y2="41.80" stroke="#3a91cf" stroke-width="1.3"/><circle cx="205.65" cy="41.80" r="1.6" fill="#1552d6" stroke="none"/><text x="217.60" y="45.48" font-size="10.9" text-anchor="start" stroke-width="0.25">LNG</text><line x1="195.60" y1="54.80" x2="215.70" y2="54.80" stroke="#4aa84a" stroke-width="1.3"/><path d="M205.65 52.80 l1.90 3.42 h-3.80 z" fill="#3f9c3f" stroke="none"/><text x="217.60" y="58.48" font-size="10.9" text-anchor="start" stroke-width="0.25">TNT</text>
<g fill="#111"><text x="134.1" y="244.7" font-size="12">(</text><text x="137.5" y="244.8" font-size="14" font-weight="bold">a</text><text x="144.5" y="244.7" font-size="12">)</text></g>
<rect x="300.30" y="14.40" width="243.10" height="190.80" fill="#fff" stroke="none"/><line x1="312.45" y1="14.40" x2="312.45" y2="205.20" stroke="#f3f3f3" stroke-width="0.6"/><line x1="324.61" y1="14.40" x2="324.61" y2="205.20" stroke="#f3f3f3" stroke-width="0.6"/><line x1="336.76" y1="14.40" x2="336.76" y2="205.20" stroke="#f3f3f3" stroke-width="0.6"/><line x1="348.92" y1="14.40" x2="348.92" y2="205.20" stroke="#f3f3f3" stroke-width="0.6"/><line x1="373.23" y1="14.40" x2="373.23" y2="205.20" stroke="#f3f3f3" stroke-width="0.6"/><line x1="385.38" y1="14.40" x2="385.38" y2="205.20" stroke="#f3f3f3" stroke-width="0.6"/><line x1="397.54" y1="14.40" x2="397.54" y2="205.20" stroke="#f3f3f3" stroke-width="0.6"/><line x1="409.69" y1="14.40" x2="409.69" y2="205.20" stroke="#f3f3f3" stroke-width="0.6"/><line x1="434.00" y1="14.40" x2="434.00" y2="205.20" stroke="#f3f3f3" stroke-width="0.6"/><line x1="446.16" y1="14.40" x2="446.16" y2="205.20" stroke="#f3f3f3" stroke-width="0.6"/><line x1="458.31" y1="14.40" x2="458.31" y2="205.20" stroke="#f3f3f3" stroke-width="0.6"/><line x1="470.47" y1="14.40" x2="470.47" y2="205.20" stroke="#f3f3f3" stroke-width="0.6"/><line x1="494.78" y1="14.40" x2="494.78" y2="205.20" stroke="#f3f3f3" stroke-width="0.6"/><line x1="506.94" y1="14.40" x2="506.94" y2="205.20" stroke="#f3f3f3" stroke-width="0.6"/><line x1="519.09" y1="14.40" x2="519.09" y2="205.20" stroke="#f3f3f3" stroke-width="0.6"/><line x1="531.25" y1="14.40" x2="531.25" y2="205.20" stroke="#f3f3f3" stroke-width="0.6"/><line x1="300.30" y1="199.24" x2="543.40" y2="199.24" stroke="#f3f3f3" stroke-width="0.6"/><line x1="300.30" y1="187.31" x2="543.40" y2="187.31" stroke="#f3f3f3" stroke-width="0.6"/><line x1="300.30" y1="175.39" x2="543.40" y2="175.39" stroke="#f3f3f3" stroke-width="0.6"/><line x1="300.30" y1="163.46" x2="543.40" y2="163.46" stroke="#f3f3f3" stroke-width="0.6"/><line x1="300.30" y1="151.54" x2="543.40" y2="151.54" stroke="#f3f3f3" stroke-width="0.6"/><line x1="300.30" y1="139.61" x2="543.40" y2="139.61" stroke="#f3f3f3" stroke-width="0.6"/><line x1="300.30" y1="127.69" x2="543.40" y2="127.69" stroke="#f3f3f3" stroke-width="0.6"/><line x1="300.30" y1="115.76" x2="543.40" y2="115.76" stroke="#f3f3f3" stroke-width="0.6"/><line x1="300.30" y1="103.84" x2="543.40" y2="103.84" stroke="#f3f3f3" stroke-width="0.6"/><line x1="300.30" y1="91.91" x2="543.40" y2="91.91" stroke="#f3f3f3" stroke-width="0.6"/><line x1="300.30" y1="79.99" x2="543.40" y2="79.99" stroke="#f3f3f3" stroke-width="0.6"/><line x1="300.30" y1="68.06" x2="543.40" y2="68.06" stroke="#f3f3f3" stroke-width="0.6"/><line x1="300.30" y1="56.14" x2="543.40" y2="56.14" stroke="#f3f3f3" stroke-width="0.6"/><line x1="300.30" y1="44.21" x2="543.40" y2="44.21" stroke="#f3f3f3" stroke-width="0.6"/><line x1="300.30" y1="32.29" x2="543.40" y2="32.29" stroke="#f3f3f3" stroke-width="0.6"/><line x1="300.30" y1="20.36" x2="543.40" y2="20.36" stroke="#f3f3f3" stroke-width="0.6"/><line x1="361.07" y1="14.40" x2="361.07" y2="205.20" stroke="#e9e9e9" stroke-width="0.7"/><line x1="421.85" y1="14.40" x2="421.85" y2="205.20" stroke="#e9e9e9" stroke-width="0.7"/><line x1="482.62" y1="14.40" x2="482.62" y2="205.20" stroke="#e9e9e9" stroke-width="0.7"/><line x1="300.30" y1="193.27" x2="543.40" y2="193.27" stroke="#e9e9e9" stroke-width="0.7"/><line x1="300.30" y1="181.35" x2="543.40" y2="181.35" stroke="#e9e9e9" stroke-width="0.7"/><line x1="300.30" y1="169.42" x2="543.40" y2="169.42" stroke="#e9e9e9" stroke-width="0.7"/><line x1="300.30" y1="157.50" x2="543.40" y2="157.50" stroke="#e9e9e9" stroke-width="0.7"/><line x1="300.30" y1="145.57" x2="543.40" y2="145.57" stroke="#e9e9e9" stroke-width="0.7"/><line x1="300.30" y1="133.65" x2="543.40" y2="133.65" stroke="#e9e9e9" stroke-width="0.7"/><line x1="300.30" y1="121.72" x2="543.40" y2="121.72" stroke="#e9e9e9" stroke-width="0.7"/><line x1="300.30" y1="109.80" x2="543.40" y2="109.80" stroke="#e9e9e9" stroke-width="0.7"/><line x1="300.30" y1="97.88" x2="543.40" y2="97.88" stroke="#e9e9e9" stroke-width="0.7"/><line x1="300.30" y1="85.95" x2="543.40" y2="85.95" stroke="#e9e9e9" stroke-width="0.7"/><line x1="300.30" y1="74.03" x2="543.40" y2="74.03" stroke="#e9e9e9" stroke-width="0.7"/><line x1="300.30" y1="62.10" x2="543.40" y2="62.10" stroke="#e9e9e9" stroke-width="0.7"/><line x1="300.30" y1="50.18" x2="543.40" y2="50.18" stroke="#e9e9e9" stroke-width="0.7"/><line x1="300.30" y1="38.25" x2="543.40" y2="38.25" stroke="#e9e9e9" stroke-width="0.7"/><line x1="300.30" y1="26.33" x2="543.40" y2="26.33" stroke="#e9e9e9" stroke-width="0.7"/>
<clipPath id="cr"><rect x="300.30" y="12.40" width="243.10" height="193.80"/></clipPath>
<path d="M312.45 205.20 v-1.30 M312.45 14.40 v1.30" stroke="#505050" stroke-width="0.7"/><path d="M324.61 205.20 v-1.30 M324.61 14.40 v1.30" stroke="#505050" stroke-width="0.7"/><path d="M336.76 205.20 v-1.30 M336.76 14.40 v1.30" stroke="#505050" stroke-width="0.7"/><path d="M348.92 205.20 v-1.30 M348.92 14.40 v1.30" stroke="#505050" stroke-width="0.7"/><path d="M373.23 205.20 v-1.30 M373.23 14.40 v1.30" stroke="#505050" stroke-width="0.7"/><path d="M385.38 205.20 v-1.30 M385.38 14.40 v1.30" stroke="#505050" stroke-width="0.7"/><path d="M397.54 205.20 v-1.30 M397.54 14.40 v1.30" stroke="#505050" stroke-width="0.7"/><path d="M409.69 205.20 v-1.30 M409.69 14.40 v1.30" stroke="#505050" stroke-width="0.7"/><path d="M434.00 205.20 v-1.30 M434.00 14.40 v1.30" stroke="#505050" stroke-width="0.7"/><path d="M446.16 205.20 v-1.30 M446.16 14.40 v1.30" stroke="#505050" stroke-width="0.7"/><path d="M458.31 205.20 v-1.30 M458.31 14.40 v1.30" stroke="#505050" stroke-width="0.7"/><path d="M470.47 205.20 v-1.30 M470.47 14.40 v1.30" stroke="#505050" stroke-width="0.7"/><path d="M494.78 205.20 v-1.30 M494.78 14.40 v1.30" stroke="#505050" stroke-width="0.7"/><path d="M506.94 205.20 v-1.30 M506.94 14.40 v1.30" stroke="#505050" stroke-width="0.7"/><path d="M519.09 205.20 v-1.30 M519.09 14.40 v1.30" stroke="#505050" stroke-width="0.7"/><path d="M531.25 205.20 v-1.30 M531.25 14.40 v1.30" stroke="#505050" stroke-width="0.7"/><path d="M361.07 205.20 v-2.40 M361.07 14.40 v2.40" stroke="#505050" stroke-width="0.7"/><path d="M421.85 205.20 v-2.40 M421.85 14.40 v2.40" stroke="#505050" stroke-width="0.7"/><path d="M482.62 205.20 v-2.40 M482.62 14.40 v2.40" stroke="#505050" stroke-width="0.7"/><path d="M300.30 205.20 v-2.40 M300.30 14.40 v2.40" stroke="#505050" stroke-width="0.7"/><path d="M543.40 205.20 v-2.40 M543.40 14.40 v2.40" stroke="#505050" stroke-width="0.7"/><path d="M300.30 199.24 h1.30 M543.40 199.24 h-1.30" stroke="#505050" stroke-width="0.7"/><path d="M300.30 187.31 h1.30 M543.40 187.31 h-1.30" stroke="#505050" stroke-width="0.7"/><path d="M300.30 175.39 h1.30 M543.40 175.39 h-1.30" stroke="#505050" stroke-width="0.7"/><path d="M300.30 163.46 h1.30 M543.40 163.46 h-1.30" stroke="#505050" stroke-width="0.7"/><path d="M300.30 151.54 h1.30 M543.40 151.54 h-1.30" stroke="#505050" stroke-width="0.7"/><path d="M300.30 139.61 h1.30 M543.40 139.61 h-1.30" stroke="#505050" stroke-width="0.7"/><path d="M300.30 127.69 h1.30 M543.40 127.69 h-1.30" stroke="#505050" stroke-width="0.7"/><path d="M300.30 115.76 h1.30 M543.40 115.76 h-1.30" stroke="#505050" stroke-width="0.7"/><path d="M300.30 103.84 h1.30 M543.40 103.84 h-1.30" stroke="#505050" stroke-width="0.7"/><path d="M300.30 91.91 h1.30 M543.40 91.91 h-1.30" stroke="#505050" stroke-width="0.7"/><path d="M300.30 79.99 h1.30 M543.40 79.99 h-1.30" stroke="#505050" stroke-width="0.7"/><path d="M300.30 68.06 h1.30 M543.40 68.06 h-1.30" stroke="#505050" stroke-width="0.7"/><path d="M300.30 56.14 h1.30 M543.40 56.14 h-1.30" stroke="#505050" stroke-width="0.7"/><path d="M300.30 44.21 h1.30 M543.40 44.21 h-1.30" stroke="#505050" stroke-width="0.7"/><path d="M300.30 32.29 h1.30 M543.40 32.29 h-1.30" stroke="#505050" stroke-width="0.7"/><path d="M300.30 20.36 h1.30 M543.40 20.36 h-1.30" stroke="#505050" stroke-width="0.7"/><path d="M300.30 193.27 h2.40 M543.40 193.27 h-2.40" stroke="#505050" stroke-width="0.7"/><path d="M300.30 181.35 h2.40 M543.40 181.35 h-2.40" stroke="#505050" stroke-width="0.7"/><path d="M300.30 169.42 h2.40 M543.40 169.42 h-2.40" stroke="#505050" stroke-width="0.7"/><path d="M300.30 157.50 h2.40 M543.40 157.50 h-2.40" stroke="#505050" stroke-width="0.7"/><path d="M300.30 145.57 h2.40 M543.40 145.57 h-2.40" stroke="#505050" stroke-width="0.7"/><path d="M300.30 133.65 h2.40 M543.40 133.65 h-2.40" stroke="#505050" stroke-width="0.7"/><path d="M300.30 121.72 h2.40 M543.40 121.72 h-2.40" stroke="#505050" stroke-width="0.7"/><path d="M300.30 109.80 h2.40 M543.40 109.80 h-2.40" stroke="#505050" stroke-width="0.7"/><path d="M300.30 97.88 h2.40 M543.40 97.88 h-2.40" stroke="#505050" stroke-width="0.7"/><path d="M300.30 85.95 h2.40 M543.40 85.95 h-2.40" stroke="#505050" stroke-width="0.7"/><path d="M300.30 74.03 h2.40 M543.40 74.03 h-2.40" stroke="#505050" stroke-width="0.7"/><path d="M300.30 62.10 h2.40 M543.40 62.10 h-2.40" stroke="#505050" stroke-width="0.7"/><path d="M300.30 50.18 h2.40 M543.40 50.18 h-2.40" stroke="#505050" stroke-width="0.7"/><path d="M300.30 38.25 h2.40 M543.40 38.25 h-2.40" stroke="#505050" stroke-width="0.7"/><path d="M300.30 26.33 h2.40 M543.40 26.33 h-2.40" stroke="#505050" stroke-width="0.7"/><path d="M300.30 14.40 h2.40 M543.40 14.40 h-2.40" stroke="#505050" stroke-width="0.7"/><path d="M300.30 205.20 h2.40 M543.40 205.20 h-2.40" stroke="#505050" stroke-width="0.7"/><rect x="300.30" y="14.40" width="243.10" height="190.80" fill="none" stroke="#848484" stroke-width="0.7"/>
<g>
<polyline points="303.64,203.80 306.68,203.80 309.72,203.80 312.76,203.80 315.80,203.80 318.83,203.80 321.87,203.80 324.91,203.80 327.95,203.80 330.99,203.80 334.03,203.80 337.07,203.80 340.11,203.80 343.15,203.80 346.19,203.80 349.22,203.80 352.26,203.80 355.30,203.80 358.34,203.80 361.38,203.80 364.42,203.80 367.46,197.25 370.50,171.75 373.54,160.75 376.58,159.90 379.61,164.25 382.65,170.50 385.69,175.50 388.73,179.10 391.77,182.25 394.81,185.00 397.85,187.50 400.89,189.50 403.93,191.55 406.97,193.20 410.00,194.55 413.04,195.70 416.08,196.70 419.12,197.55 422.16,198.30 425.20,199.00 428.24,199.60 431.28,200.20 434.32,200.70 437.36,201.20 440.39,201.60 443.43,202.00 446.47,202.30 449.51,202.60 452.55,202.55 455.59,202.80 458.63,203.00 461.67,203.15 464.71,203.30 467.75,203.40 470.78,203.44 473.82,203.49 476.86,203.53 479.90,203.58 482.94,203.62 485.98,203.67 489.02,203.72 492.06,203.76 495.10,203.81 498.13,203.85 501.17,203.90 504.21,203.94 507.25,203.99 510.29,204.03 513.33,204.08 516.37,204.12 519.41,204.17 522.45,204.21 525.49,204.26 528.53,204.30" fill="none" stroke="#f5852a" stroke-width="1.35" stroke-linejoin="round"/>
<circle cx="303.64" cy="203.80" r="1.45" fill="#f5852a" stroke="none"/><circle cx="306.68" cy="203.80" r="1.45" fill="#f5852a" stroke="none"/><circle cx="309.72" cy="203.80" r="1.45" fill="#f5852a" stroke="none"/><circle cx="312.76" cy="203.80" r="1.45" fill="#f5852a" stroke="none"/><circle cx="315.80" cy="203.80" r="1.45" fill="#f5852a" stroke="none"/><circle cx="318.83" cy="203.80" r="1.45" fill="#f5852a" stroke="none"/><circle cx="321.87" cy="203.80" r="1.45" fill="#f5852a" stroke="none"/><circle cx="324.91" cy="203.80" r="1.45" fill="#f5852a" stroke="none"/><circle cx="327.95" cy="203.80" r="1.45" fill="#f5852a" stroke="none"/><circle cx="330.99" cy="203.80" r="1.45" fill="#f5852a" stroke="none"/><circle cx="334.03" cy="203.80" r="1.45" fill="#f5852a" stroke="none"/><circle cx="337.07" cy="203.80" r="1.45" fill="#f5852a" stroke="none"/><circle cx="340.11" cy="203.80" r="1.45" fill="#f5852a" stroke="none"/><circle cx="343.15" cy="203.80" r="1.45" fill="#f5852a" stroke="none"/><circle cx="346.19" cy="203.80" r="1.45" fill="#f5852a" stroke="none"/><circle cx="349.22" cy="203.80" r="1.45" fill="#f5852a" stroke="none"/><circle cx="352.26" cy="203.80" r="1.45" fill="#f5852a" stroke="none"/><circle cx="355.30" cy="203.80" r="1.45" fill="#f5852a" stroke="none"/><circle cx="358.34" cy="203.80" r="1.45" fill="#f5852a" stroke="none"/><circle cx="361.38" cy="203.80" r="1.45" fill="#f5852a" stroke="none"/><circle cx="364.42" cy="203.80" r="1.45" fill="#f5852a" stroke="none"/><circle cx="367.46" cy="197.25" r="1.45" fill="#f5852a" stroke="none"/><circle cx="370.50" cy="171.75" r="1.45" fill="#f5852a" stroke="none"/><circle cx="373.54" cy="160.75" r="1.45" fill="#f5852a" stroke="none"/><circle cx="376.58" cy="159.90" r="1.45" fill="#f5852a" stroke="none"/><circle cx="379.61" cy="164.25" r="1.45" fill="#f5852a" stroke="none"/><circle cx="382.65" cy="170.50" r="1.45" fill="#f5852a" stroke="none"/><circle cx="385.69" cy="175.50" r="1.45" fill="#f5852a" stroke="none"/><circle cx="388.73" cy="179.10" r="1.45" fill="#f5852a" stroke="none"/><circle cx="391.77" cy="182.25" r="1.45" fill="#f5852a" stroke="none"/><circle cx="394.81" cy="185.00" r="1.45" fill="#f5852a" stroke="none"/><circle cx="397.85" cy="187.50" r="1.45" fill="#f5852a" stroke="none"/><circle cx="400.89" cy="189.50" r="1.45" fill="#f5852a" stroke="none"/><circle cx="403.93" cy="191.55" r="1.45" fill="#f5852a" stroke="none"/><circle cx="406.97" cy="193.20" r="1.45" fill="#f5852a" stroke="none"/><circle cx="410.00" cy="194.55" r="1.45" fill="#f5852a" stroke="none"/><circle cx="413.04" cy="195.70" r="1.45" fill="#f5852a" stroke="none"/><circle cx="416.08" cy="196.70" r="1.45" fill="#f5852a" stroke="none"/><circle cx="419.12" cy="197.55" r="1.45" fill="#f5852a" stroke="none"/><circle cx="422.16" cy="198.30" r="1.45" fill="#f5852a" stroke="none"/><circle cx="425.20" cy="199.00" r="1.45" fill="#f5852a" stroke="none"/><circle cx="428.24" cy="199.60" r="1.45" fill="#f5852a" stroke="none"/><circle cx="431.28" cy="200.20" r="1.45" fill="#f5852a" stroke="none"/><circle cx="434.32" cy="200.70" r="1.45" fill="#f5852a" stroke="none"/><circle cx="437.36" cy="201.20" r="1.45" fill="#f5852a" stroke="none"/><circle cx="440.39" cy="201.60" r="1.45" fill="#f5852a" stroke="none"/><circle cx="443.43" cy="202.00" r="1.45" fill="#f5852a" stroke="none"/><circle cx="446.47" cy="202.30" r="1.45" fill="#f5852a" stroke="none"/><circle cx="449.51" cy="202.60" r="1.45" fill="#f5852a" stroke="none"/><circle cx="452.55" cy="202.55" r="1.45" fill="#f5852a" stroke="none"/><circle cx="455.59" cy="202.80" r="1.45" fill="#f5852a" stroke="none"/><circle cx="458.63" cy="203.00" r="1.45" fill="#f5852a" stroke="none"/><circle cx="461.67" cy="203.15" r="1.45" fill="#f5852a" stroke="none"/><circle cx="464.71" cy="203.30" r="1.45" fill="#f5852a" stroke="none"/><circle cx="467.75" cy="203.40" r="1.45" fill="#f5852a" stroke="none"/><circle cx="470.78" cy="203.44" r="1.45" fill="#f5852a" stroke="none"/><circle cx="473.82" cy="203.49" r="1.45" fill="#f5852a" stroke="none"/><circle cx="476.86" cy="203.53" r="1.45" fill="#f5852a" stroke="none"/><circle cx="479.90" cy="203.58" r="1.45" fill="#f5852a" stroke="none"/><circle cx="482.94" cy="203.62" r="1.45" fill="#f5852a" stroke="none"/><circle cx="485.98" cy="203.67" r="1.45" fill="#f5852a" stroke="none"/><circle cx="489.02" cy="203.72" r="1.45" fill="#f5852a" stroke="none"/><circle cx="492.06" cy="203.76" r="1.45" fill="#f5852a" stroke="none"/><circle cx="495.10" cy="203.81" r="1.45" fill="#f5852a" stroke="none"/><circle cx="498.13" cy="203.85" r="1.45" fill="#f5852a" stroke="none"/><circle cx="501.17" cy="203.90" r="1.45" fill="#f5852a" stroke="none"/><circle cx="504.21" cy="203.94" r="1.45" fill="#f5852a" stroke="none"/><circle cx="507.25" cy="203.99" r="1.45" fill="#f5852a" stroke="none"/><circle cx="510.29" cy="204.03" r="1.45" fill="#f5852a" stroke="none"/><circle cx="513.33" cy="204.08" r="1.45" fill="#f5852a" stroke="none"/><circle cx="516.37" cy="204.12" r="1.45" fill="#f5852a" stroke="none"/><circle cx="519.41" cy="204.17" r="1.45" fill="#f5852a" stroke="none"/><circle cx="522.45" cy="204.21" r="1.45" fill="#f5852a" stroke="none"/><circle cx="525.49" cy="204.26" r="1.45" fill="#f5852a" stroke="none"/><circle cx="528.53" cy="204.30" r="1.45" fill="#f5852a" stroke="none"/>
<polyline points="303.64,203.80 306.68,203.80 309.72,203.80 312.76,203.80 315.80,203.80 318.83,203.80 321.87,203.80 324.91,203.80 327.95,203.80 330.99,203.80 334.03,203.80 337.07,113.00 340.11,16.60 343.15,54.75 346.19,95.00 349.22,118.00 352.26,133.50 355.30,149.90 358.34,168.25 361.38,183.50 364.42,191.00 367.46,196.00 370.50,199.75 373.54,202.00 376.58,203.10 379.61,203.75 382.65,204.10 385.69,204.30 388.73,204.45 391.77,204.50 394.81,204.50 397.85,204.40 400.89,204.20 403.93,204.00 406.97,203.80 410.00,204.00 413.04,204.00 416.08,204.00 419.12,203.80 422.16,201.20 425.20,200.30 428.24,200.20 431.28,200.20 434.32,200.20 437.36,200.20 440.39,200.20 443.43,200.20 446.47,200.25 449.51,200.31 452.55,200.36 455.59,200.42 458.63,200.47 461.67,200.53 464.71,200.58 467.75,200.64 470.78,200.69 473.82,200.75 476.86,200.80 479.90,200.86 482.94,200.92 485.98,200.98 489.02,201.04 492.06,201.09 495.10,201.15 498.13,201.21 501.17,201.27 504.21,201.33 507.25,201.39 510.29,201.45 513.33,201.51 516.37,201.56 519.41,201.62 522.45,201.68 525.49,201.74 528.53,201.80" fill="none" stroke="#3a91cf" stroke-width="1.35" stroke-linejoin="round"/>
<circle cx="303.64" cy="203.80" r="1.5" fill="#1552d6" stroke="none"/><circle cx="306.68" cy="203.80" r="1.5" fill="#1552d6" stroke="none"/><circle cx="309.72" cy="203.80" r="1.5" fill="#1552d6" stroke="none"/><circle cx="312.76" cy="203.80" r="1.5" fill="#1552d6" stroke="none"/><circle cx="315.80" cy="203.80" r="1.5" fill="#1552d6" stroke="none"/><circle cx="318.83" cy="203.80" r="1.5" fill="#1552d6" stroke="none"/><circle cx="321.87" cy="203.80" r="1.5" fill="#1552d6" stroke="none"/><circle cx="324.91" cy="203.80" r="1.5" fill="#1552d6" stroke="none"/><circle cx="327.95" cy="203.80" r="1.5" fill="#1552d6" stroke="none"/><circle cx="330.99" cy="203.80" r="1.5" fill="#1552d6" stroke="none"/><circle cx="334.03" cy="203.80" r="1.5" fill="#1552d6" stroke="none"/><circle cx="337.07" cy="113.00" r="1.5" fill="#1552d6" stroke="none"/><circle cx="340.11" cy="16.60" r="1.5" fill="#1552d6" stroke="none"/><circle cx="343.15" cy="54.75" r="1.5" fill="#1552d6" stroke="none"/><circle cx="346.19" cy="95.00" r="1.5" fill="#1552d6" stroke="none"/><circle cx="349.22" cy="118.00" r="1.5" fill="#1552d6" stroke="none"/><circle cx="352.26" cy="133.50" r="1.5" fill="#1552d6" stroke="none"/><circle cx="355.30" cy="149.90" r="1.5" fill="#1552d6" stroke="none"/><circle cx="358.34" cy="168.25" r="1.5" fill="#1552d6" stroke="none"/><circle cx="361.38" cy="183.50" r="1.5" fill="#1552d6" stroke="none"/><circle cx="364.42" cy="191.00" r="1.5" fill="#1552d6" stroke="none"/><circle cx="367.46" cy="196.00" r="1.5" fill="#1552d6" stroke="none"/><circle cx="370.50" cy="199.75" r="1.5" fill="#1552d6" stroke="none"/><circle cx="373.54" cy="202.00" r="1.5" fill="#1552d6" stroke="none"/><circle cx="376.58" cy="203.10" r="1.5" fill="#1552d6" stroke="none"/><circle cx="379.61" cy="203.75" r="1.5" fill="#1552d6" stroke="none"/><circle cx="382.65" cy="204.10" r="1.5" fill="#1552d6" stroke="none"/><circle cx="385.69" cy="204.30" r="1.5" fill="#1552d6" stroke="none"/><circle cx="388.73" cy="204.45" r="1.5" fill="#1552d6" stroke="none"/><circle cx="391.77" cy="204.50" r="1.5" fill="#1552d6" stroke="none"/><circle cx="394.81" cy="204.50" r="1.5" fill="#1552d6" stroke="none"/><circle cx="397.85" cy="204.40" r="1.5" fill="#1552d6" stroke="none"/><circle cx="400.89" cy="204.20" r="1.5" fill="#1552d6" stroke="none"/><circle cx="403.93" cy="204.00" r="1.5" fill="#1552d6" stroke="none"/><circle cx="406.97" cy="203.80" r="1.5" fill="#1552d6" stroke="none"/><circle cx="410.00" cy="204.00" r="1.5" fill="#1552d6" stroke="none"/><circle cx="413.04" cy="204.00" r="1.5" fill="#1552d6" stroke="none"/><circle cx="416.08" cy="204.00" r="1.5" fill="#1552d6" stroke="none"/><circle cx="419.12" cy="203.80" r="1.5" fill="#1552d6" stroke="none"/><circle cx="422.16" cy="201.20" r="1.5" fill="#1552d6" stroke="none"/><circle cx="425.20" cy="200.30" r="1.5" fill="#1552d6" stroke="none"/><circle cx="428.24" cy="200.20" r="1.5" fill="#1552d6" stroke="none"/><circle cx="431.28" cy="200.20" r="1.5" fill="#1552d6" stroke="none"/><circle cx="434.32" cy="200.20" r="1.5" fill="#1552d6" stroke="none"/><circle cx="437.36" cy="200.20" r="1.5" fill="#1552d6" stroke="none"/><circle cx="440.39" cy="200.20" r="1.5" fill="#1552d6" stroke="none"/><circle cx="443.43" cy="200.20" r="1.5" fill="#1552d6" stroke="none"/><circle cx="446.47" cy="200.25" r="1.5" fill="#1552d6" stroke="none"/><circle cx="449.51" cy="200.31" r="1.5" fill="#1552d6" stroke="none"/><circle cx="452.55" cy="200.36" r="1.5" fill="#1552d6" stroke="none"/><circle cx="455.59" cy="200.42" r="1.5" fill="#1552d6" stroke="none"/><circle cx="458.63" cy="200.47" r="1.5" fill="#1552d6" stroke="none"/><circle cx="461.67" cy="200.53" r="1.5" fill="#1552d6" stroke="none"/><circle cx="464.71" cy="200.58" r="1.5" fill="#1552d6" stroke="none"/><circle cx="467.75" cy="200.64" r="1.5" fill="#1552d6" stroke="none"/><circle cx="470.78" cy="200.69" r="1.5" fill="#1552d6" stroke="none"/><circle cx="473.82" cy="200.75" r="1.5" fill="#1552d6" stroke="none"/><circle cx="476.86" cy="200.80" r="1.5" fill="#1552d6" stroke="none"/><circle cx="479.90" cy="200.86" r="1.5" fill="#1552d6" stroke="none"/><circle cx="482.94" cy="200.92" r="1.5" fill="#1552d6" stroke="none"/><circle cx="485.98" cy="200.98" r="1.5" fill="#1552d6" stroke="none"/><circle cx="489.02" cy="201.04" r="1.5" fill="#1552d6" stroke="none"/><circle cx="492.06" cy="201.09" r="1.5" fill="#1552d6" stroke="none"/><circle cx="495.10" cy="201.15" r="1.5" fill="#1552d6" stroke="none"/><circle cx="498.13" cy="201.21" r="1.5" fill="#1552d6" stroke="none"/><circle cx="501.17" cy="201.27" r="1.5" fill="#1552d6" stroke="none"/><circle cx="504.21" cy="201.33" r="1.5" fill="#1552d6" stroke="none"/><circle cx="507.25" cy="201.39" r="1.5" fill="#1552d6" stroke="none"/><circle cx="510.29" cy="201.45" r="1.5" fill="#1552d6" stroke="none"/><circle cx="513.33" cy="201.51" r="1.5" fill="#1552d6" stroke="none"/><circle cx="516.37" cy="201.56" r="1.5" fill="#1552d6" stroke="none"/><circle cx="519.41" cy="201.62" r="1.5" fill="#1552d6" stroke="none"/><circle cx="522.45" cy="201.68" r="1.5" fill="#1552d6" stroke="none"/><circle cx="525.49" cy="201.74" r="1.5" fill="#1552d6" stroke="none"/><circle cx="528.53" cy="201.80" r="1.5" fill="#1552d6" stroke="none"/>
<polyline points="303.64,203.90 306.68,203.90 309.72,203.90 312.76,203.90 315.80,203.90 318.83,203.90 321.87,203.90 324.91,203.90 327.95,203.90 330.99,203.90 334.03,203.90 337.07,203.90 340.11,202.25 343.15,197.90 346.19,192.25 349.22,188.90 352.26,187.50 355.30,187.50 358.34,188.30 361.38,189.60 364.42,191.10 367.46,192.50 370.50,193.75 373.54,194.75 376.58,195.50 379.61,196.30 382.65,196.95 385.69,197.50 388.73,198.00 391.77,198.50 394.81,198.90 397.85,199.20 400.89,199.45 403.93,199.65 406.97,199.85 410.00,200.20 413.04,200.45 416.08,200.65 419.12,200.85 422.16,201.00 425.20,201.15 428.24,201.30 431.28,201.45 434.32,201.60 437.36,201.75 440.39,201.90 443.43,202.00 446.47,202.10 449.51,202.20 452.55,202.30 455.59,202.35 458.63,202.40 461.67,202.45 464.71,202.50 467.75,202.55 470.78,202.60 473.82,202.65 476.86,202.70 479.90,202.75 482.94,202.79 485.98,202.84 489.02,202.89 492.06,202.94 495.10,202.98 498.13,203.03 501.17,203.08 504.21,203.12 507.25,203.17 510.29,203.22 513.33,203.26 516.37,203.31 519.41,203.36 522.45,203.41 525.49,203.45 528.53,203.50" fill="none" stroke="#4aa84a" stroke-width="1.35" stroke-linejoin="round"/>
<path d="M303.64 201.64 l2.15 3.87 h-4.30 z" fill="#3f9c3f" stroke="none"/><path d="M306.68 201.64 l2.15 3.87 h-4.30 z" fill="#3f9c3f" stroke="none"/><path d="M309.72 201.64 l2.15 3.87 h-4.30 z" fill="#3f9c3f" stroke="none"/><path d="M312.76 201.64 l2.15 3.87 h-4.30 z" fill="#3f9c3f" stroke="none"/><path d="M315.80 201.64 l2.15 3.87 h-4.30 z" fill="#3f9c3f" stroke="none"/><path d="M318.83 201.64 l2.15 3.87 h-4.30 z" fill="#3f9c3f" stroke="none"/><path d="M321.87 201.64 l2.15 3.87 h-4.30 z" fill="#3f9c3f" stroke="none"/><path d="M324.91 201.64 l2.15 3.87 h-4.30 z" fill="#3f9c3f" stroke="none"/><path d="M327.95 201.64 l2.15 3.87 h-4.30 z" fill="#3f9c3f" stroke="none"/><path d="M330.99 201.64 l2.15 3.87 h-4.30 z" fill="#3f9c3f" stroke="none"/><path d="M334.03 201.64 l2.15 3.87 h-4.30 z" fill="#3f9c3f" stroke="none"/><path d="M337.07 201.64 l2.15 3.87 h-4.30 z" fill="#3f9c3f" stroke="none"/><path d="M340.11 199.99 l2.15 3.87 h-4.30 z" fill="#3f9c3f" stroke="none"/><path d="M343.15 195.64 l2.15 3.87 h-4.30 z" fill="#3f9c3f" stroke="none"/><path d="M346.19 189.99 l2.15 3.87 h-4.30 z" fill="#3f9c3f" stroke="none"/><path d="M349.22 186.64 l2.15 3.87 h-4.30 z" fill="#3f9c3f" stroke="none"/><path d="M352.26 185.24 l2.15 3.87 h-4.30 z" fill="#3f9c3f" stroke="none"/><path d="M355.30 185.24 l2.15 3.87 h-4.30 z" fill="#3f9c3f" stroke="none"/><path d="M358.34 186.04 l2.15 3.87 h-4.30 z" fill="#3f9c3f" stroke="none"/><path d="M361.38 187.34 l2.15 3.87 h-4.30 z" fill="#3f9c3f" stroke="none"/><path d="M364.42 188.84 l2.15 3.87 h-4.30 z" fill="#3f9c3f" stroke="none"/><path d="M367.46 190.24 l2.15 3.87 h-4.30 z" fill="#3f9c3f" stroke="none"/><path d="M370.50 191.49 l2.15 3.87 h-4.30 z" fill="#3f9c3f" stroke="none"/><path d="M373.54 192.49 l2.15 3.87 h-4.30 z" fill="#3f9c3f" stroke="none"/><path d="M376.58 193.24 l2.15 3.87 h-4.30 z" fill="#3f9c3f" stroke="none"/><path d="M379.61 194.04 l2.15 3.87 h-4.30 z" fill="#3f9c3f" stroke="none"/><path d="M382.65 194.69 l2.15 3.87 h-4.30 z" fill="#3f9c3f" stroke="none"/><path d="M385.69 195.24 l2.15 3.87 h-4.30 z" fill="#3f9c3f" stroke="none"/><path d="M388.73 195.74 l2.15 3.87 h-4.30 z" fill="#3f9c3f" stroke="none"/><path d="M391.77 196.24 l2.15 3.87 h-4.30 z" fill="#3f9c3f" stroke="none"/><path d="M394.81 196.64 l2.15 3.87 h-4.30 z" fill="#3f9c3f" stroke="none"/><path d="M397.85 196.94 l2.15 3.87 h-4.30 z" fill="#3f9c3f" stroke="none"/><path d="M400.89 197.19 l2.15 3.87 h-4.30 z" fill="#3f9c3f" stroke="none"/><path d="M403.93 197.39 l2.15 3.87 h-4.30 z" fill="#3f9c3f" stroke="none"/><path d="M406.97 197.59 l2.15 3.87 h-4.30 z" fill="#3f9c3f" stroke="none"/><path d="M410.00 197.94 l2.15 3.87 h-4.30 z" fill="#3f9c3f" stroke="none"/><path d="M413.04 198.19 l2.15 3.87 h-4.30 z" fill="#3f9c3f" stroke="none"/><path d="M416.08 198.39 l2.15 3.87 h-4.30 z" fill="#3f9c3f" stroke="none"/><path d="M419.12 198.59 l2.15 3.87 h-4.30 z" fill="#3f9c3f" stroke="none"/><path d="M422.16 198.74 l2.15 3.87 h-4.30 z" fill="#3f9c3f" stroke="none"/><path d="M425.20 198.89 l2.15 3.87 h-4.30 z" fill="#3f9c3f" stroke="none"/><path d="M428.24 199.04 l2.15 3.87 h-4.30 z" fill="#3f9c3f" stroke="none"/><path d="M431.28 199.19 l2.15 3.87 h-4.30 z" fill="#3f9c3f" stroke="none"/><path d="M434.32 199.34 l2.15 3.87 h-4.30 z" fill="#3f9c3f" stroke="none"/><path d="M437.36 199.49 l2.15 3.87 h-4.30 z" fill="#3f9c3f" stroke="none"/><path d="M440.39 199.64 l2.15 3.87 h-4.30 z" fill="#3f9c3f" stroke="none"/><path d="M443.43 199.74 l2.15 3.87 h-4.30 z" fill="#3f9c3f" stroke="none"/><path d="M446.47 199.84 l2.15 3.87 h-4.30 z" fill="#3f9c3f" stroke="none"/><path d="M449.51 199.94 l2.15 3.87 h-4.30 z" fill="#3f9c3f" stroke="none"/><path d="M452.55 200.04 l2.15 3.87 h-4.30 z" fill="#3f9c3f" stroke="none"/><path d="M455.59 200.09 l2.15 3.87 h-4.30 z" fill="#3f9c3f" stroke="none"/><path d="M458.63 200.14 l2.15 3.87 h-4.30 z" fill="#3f9c3f" stroke="none"/><path d="M461.67 200.19 l2.15 3.87 h-4.30 z" fill="#3f9c3f" stroke="none"/><path d="M464.71 200.24 l2.15 3.87 h-4.30 z" fill="#3f9c3f" stroke="none"/><path d="M467.75 200.29 l2.15 3.87 h-4.30 z" fill="#3f9c3f" stroke="none"/><path d="M470.78 200.34 l2.15 3.87 h-4.30 z" fill="#3f9c3f" stroke="none"/><path d="M473.82 200.39 l2.15 3.87 h-4.30 z" fill="#3f9c3f" stroke="none"/><path d="M476.86 200.44 l2.15 3.87 h-4.30 z" fill="#3f9c3f" stroke="none"/><path d="M479.90 200.49 l2.15 3.87 h-4.30 z" fill="#3f9c3f" stroke="none"/><path d="M482.94 200.54 l2.15 3.87 h-4.30 z" fill="#3f9c3f" stroke="none"/><path d="M485.98 200.58 l2.15 3.87 h-4.30 z" fill="#3f9c3f" stroke="none"/><path d="M489.02 200.63 l2.15 3.87 h-4.30 z" fill="#3f9c3f" stroke="none"/><path d="M492.06 200.68 l2.15 3.87 h-4.30 z" fill="#3f9c3f" stroke="none"/><path d="M495.10 200.72 l2.15 3.87 h-4.30 z" fill="#3f9c3f" stroke="none"/><path d="M498.13 200.77 l2.15 3.87 h-4.30 z" fill="#3f9c3f" stroke="none"/><path d="M501.17 200.82 l2.15 3.87 h-4.30 z" fill="#3f9c3f" stroke="none"/><path d="M504.21 200.87 l2.15 3.87 h-4.30 z" fill="#3f9c3f" stroke="none"/><path d="M507.25 200.91 l2.15 3.87 h-4.30 z" fill="#3f9c3f" stroke="none"/><path d="M510.29 200.96 l2.15 3.87 h-4.30 z" fill="#3f9c3f" stroke="none"/><path d="M513.33 201.01 l2.15 3.87 h-4.30 z" fill="#3f9c3f" stroke="none"/><path d="M516.37 201.05 l2.15 3.87 h-4.30 z" fill="#3f9c3f" stroke="none"/><path d="M519.41 201.10 l2.15 3.87 h-4.30 z" fill="#3f9c3f" stroke="none"/><path d="M522.45 201.15 l2.15 3.87 h-4.30 z" fill="#3f9c3f" stroke="none"/><path d="M525.49 201.20 l2.15 3.87 h-4.30 z" fill="#3f9c3f" stroke="none"/><path d="M528.53 201.24 l2.15 3.87 h-4.30 z" fill="#3f9c3f" stroke="none"/>
</g>
<text x="297.60" y="208.04" font-size="8.6" text-anchor="end" >0</text>
<text x="297.60" y="196.11" font-size="8.6" text-anchor="end" >1</text>
<text x="297.60" y="184.19" font-size="8.6" text-anchor="end" >2</text>
<text x="297.60" y="172.26" font-size="8.6" text-anchor="end" >3</text>
<text x="297.60" y="160.34" font-size="8.6" text-anchor="end" >4</text>
<text x="297.60" y="148.41" font-size="8.6" text-anchor="end" >5</text>
<text x="297.60" y="136.49" font-size="8.6" text-anchor="end" >6</text>
<text x="297.60" y="124.56" font-size="8.6" text-anchor="end" >7</text>
<text x="297.60" y="112.64" font-size="8.6" text-anchor="end" >8</text>
<text x="297.60" y="100.71" font-size="8.6" text-anchor="end" >9</text>
<text x="297.60" y="88.79" font-size="8.6" text-anchor="end" >10</text>
<text x="297.60" y="76.86" font-size="8.6" text-anchor="end" >11</text>
<text x="297.60" y="64.94" font-size="8.6" text-anchor="end" >12</text>
<text x="297.60" y="53.01" font-size="8.6" text-anchor="end" >13</text>
<text x="297.60" y="41.09" font-size="8.6" text-anchor="end" >14</text>
<text x="297.60" y="29.16" font-size="8.6" text-anchor="end" >15</text>
<text x="297.60" y="17.24" font-size="8.6" text-anchor="end" >16</text>
<text x="300.70" y="216.40" font-size="8.6" text-anchor="middle" >0</text>
<text x="361.47" y="216.40" font-size="8.6" text-anchor="middle" >1</text>
<text x="422.25" y="216.40" font-size="8.6" text-anchor="middle" >2</text>
<text x="483.02" y="216.40" font-size="8.6" text-anchor="middle" >3</text>
<text x="543.80" y="216.40" font-size="8.6" text-anchor="middle" >4</text>
<text x="422.40" y="229.00" font-size="9.7" text-anchor="middle" >Time(s)</text>
<text x="522.00" y="229.30" font-size="10.1" text-anchor="start" >×10<tspan dy="-2.4" font-size="6.6">−3</tspan></text>
<text x="301.20" y="12.30" font-size="10.3" text-anchor="start" >×10<tspan dy="-4.9" font-size="7.3">6</tspan></text>
<text x="0.00" y="0.00" font-size="9.7" text-anchor="middle" transform="translate(285.0,110) rotate(-90)">p(Pa)</text>
<rect x="471.30" y="20.40" width="65.70" height="43.00" fill="#fff" stroke="#6a6a6a" stroke-width="0.8"/><line x1="474.40" y1="28.70" x2="494.70" y2="28.70" stroke="#f5852a" stroke-width="1.3"/><circle cx="484.55" cy="28.70" r="1.4" fill="#f5852a" stroke="none"/><text x="497.00" y="32.92" font-size="12.0" text-anchor="start" stroke-width="0.25">naphtha</text><line x1="474.40" y1="42.60" x2="494.70" y2="42.60" stroke="#3a91cf" stroke-width="1.3"/><circle cx="484.55" cy="42.60" r="1.6" fill="#1552d6" stroke="none"/><text x="497.00" y="46.62" font-size="12.0" text-anchor="start" stroke-width="0.25">LNG</text><line x1="474.40" y1="56.70" x2="494.70" y2="56.70" stroke="#4aa84a" stroke-width="1.3"/><path d="M484.55 54.71 l1.90 3.42 h-3.80 z" fill="#3f9c3f" stroke="none"/><text x="497.00" y="60.72" font-size="12.0" text-anchor="start" stroke-width="0.25">TNT</text>
<g fill="#111"><text x="402.1" y="244.8" font-size="13">(</text><text x="406.3" y="244.8" font-size="14.2" font-weight="bold">b</text><text x="414.5" y="244.8" font-size="13">)</text></g>
</svg>
</body></html>
